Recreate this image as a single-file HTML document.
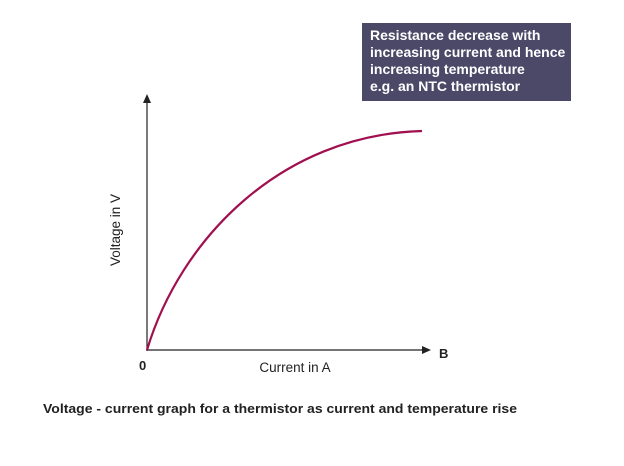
<!DOCTYPE html>
<html><head><style>
body{margin:0;background:#fff;}
svg{display:block;font-family:"Liberation Sans",Arial,sans-serif;}
</style></head><body>
<svg width="624" height="466" viewBox="0 0 624 466" xmlns="http://www.w3.org/2000/svg">
<rect width="624" height="466" fill="#fff"/>
<rect x="362" y="23" width="209" height="78" fill="#4b4868"/>
<g fill="#fff" font-weight="bold" font-size="14">
<text x="370" y="40">Resistance decrease with</text>
<text x="370" y="57">increasing current and hence</text>
<text x="370" y="74">increasing temperature</text>
<text x="370" y="91">e.g. an NTC thermistor</text>
</g>
<line x1="147" y1="351" x2="147" y2="100" stroke="#222" stroke-width="1.2"/>
<polygon points="147,94 143,103 151,103" fill="#222"/>
<line x1="147" y1="350" x2="425" y2="350" stroke="#222" stroke-width="1.2"/>
<polygon points="431,350 422,346 422,354" fill="#222"/>
<path d="M147,350 C180,240 280,135 422,131" fill="none" stroke="#a0104f" stroke-width="2.2"/>
<text x="139" y="370" font-size="13" font-weight="bold" fill="#222">0</text>
<text x="439" y="358" font-size="13" font-weight="bold" fill="#222">B</text>
<text x="295" y="372" font-size="13.5" fill="#222" text-anchor="middle">Current in A</text>
<text transform="translate(120,230) rotate(-90)" font-size="13.5" fill="#222" text-anchor="middle">Voltage in V</text>
<text x="43" y="413" font-size="13" font-weight="bold" fill="#222" textLength="474" lengthAdjust="spacingAndGlyphs">Voltage - current graph for a thermistor as current and temperature rise</text>
</svg>
</body></html>
